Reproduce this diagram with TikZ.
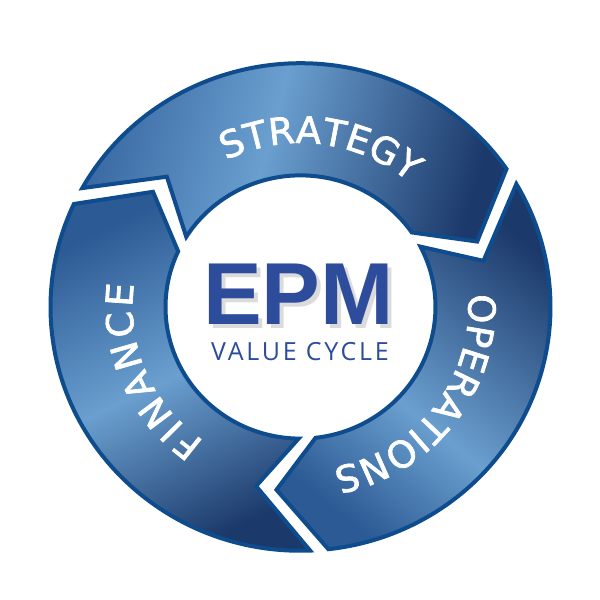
\documentclass[tikz,border=0pt]{standalone}
\usepackage{fontspec}
\newfontfamily\ringfont[FakeBold=1.8]{DejaVu Sans}
\newfontfamily\epmfont{Liberation Sans}
\newfontfamily\vcfont[LetterSpace=11]{Open Sans}
\definecolor{bordblue}{RGB}{14,76,142}
\definecolor{segdark}{RGB}{27,57,106}
\definecolor{seglight}{RGB}{106,159,207}
\definecolor{segmid}{RGB}{58,105,163}
\definecolor{seghead}{RGB}{44,90,148}
\definecolor{epmblue}{RGB}{45,76,155}
\pgfdeclarehorizontalshading{strsh}{100bp}{color(0bp)=(segmid); color(25bp)=(segmid); color(47bp)=(seglight); color(75bp)=(segdark); color(100bp)=(segdark)}
\pgfdeclarehorizontalshading{finsh}{100bp}{color(0bp)=(segdark); color(25bp)=(segdark); color(50bp)=(seglight); color(75bp)=(seghead); color(100bp)=(seghead)}
\pgfdeclarehorizontalshading{opsh}{100bp}{color(0bp)=(segdark); color(25bp)=(segdark); color(56bp)=(seglight); color(75bp)=(seghead); color(100bp)=(seghead)}
\tikzset{
  seg/.style={line width=4pt, draw=bordblue, line join=miter},
  ringletter/.style={font=\ringfont\fontsize{37}{37}\selectfont, text=white, anchor=base, inner sep=0pt},
  epmtext/.style={font=\epmfont\bfseries\fontsize{88}{88}\selectfont, anchor=base, inner sep=0pt},
  vctext/.style={font=\vcfont\fontsize{25}{25}\selectfont, anchor=base, inner sep=0pt, text=epmblue}
}
\begin{document}
\begin{tikzpicture}[x=1pt,y=1pt]
\fill[white] (0,0) rectangle (600,600);
\useasboundingbox (0,0) rectangle (600,600);
\begin{scope}[shift={(300.5,293)}, yscale=0.975]
  % Finance
  \shadedraw[seg, shading=finsh, shading angle=116]
    (272.2:250) arc[start angle=272.2, end angle=155, radius=250]
    -- (141.3:189) -- (155:135)
    arc[start angle=155, end angle=269.2, radius=135]
    -- (256.4:189) -- cycle;
  % Strategy
  \shadedraw[seg, shading=strsh, shading angle=-15]
    (150.8:250) arc[start angle=150.8, end angle=34.5, radius=250]
    -- (20.8:189) -- (34.5:135)
    arc[start angle=34.5, end angle=147.8, radius=135]
    -- (135:189) -- cycle;
  % Operations
  \shadedraw[seg, shading=opsh, shading angle=231]
    (30.3:250) arc[start angle=30.3, end angle=-83.6, radius=250]
    -- (-97.3:189) -- (-83.6:135)
    arc[start angle=-83.6, end angle=27.3, radius=135]
    -- (14.5:189) -- cycle;
  % ring labels
  \foreach \l/\a [count=\i] in {S/112.3, T/104.4, R/96.1, A/87.4, T/79.15, E/71.3, G/62.3, Y/53.5}
    \node[ringletter, rotate=\a-90] (st\i) at (\a:168) {\l};
  \foreach \l/\a [count=\i] in {F/231.4, I/224.6, N/216.8, A/206.4, N/196.1, C/185.7, E/176.0}
    \node[ringletter, rotate=\a-90] (fi\i) at (\a:168) {\l};
  \foreach \l/\a [count=\i] in {O/-0.59, P/-9.55, E/-17.51, R/-26.06, A/-34.95, T/-43.29, I/-49.13, O/-56.11, N/-66.0, S/-74.91}
    \node[ringletter, rotate=\a-90] (op\i) at (\a:168) {\l};
\end{scope}
% centre text with soft shadow
\node[epmtext, text=black, opacity=0.14] (epmsh) at (302.5,271) {EPM};
\node[epmtext, text=epmblue] (epm) at (298.5,275) {EPM};
\node[vctext] (vc) at (300,239.5) {VALUE CYCLE};
\end{tikzpicture}
\end{document}
